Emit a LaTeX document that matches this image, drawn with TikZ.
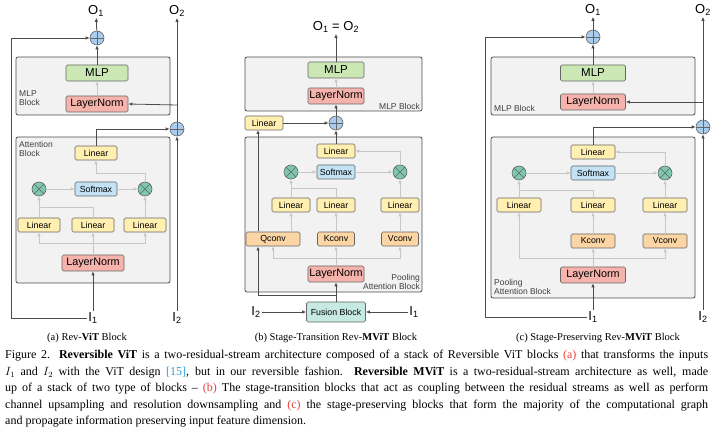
\documentclass[tikz,border=0pt]{standalone}
\usepackage{fontspec}
\setmainfont{Liberation Serif}
\setsansfont{Liberation Sans}
\usetikzlibrary{arrows.meta}
\definecolor{linY}{HTML}{FFEFB0}
\definecolor{lnR}{HTML}{F6B3AC}
\definecolor{mlpG}{HTML}{CBE8B4}
\definecolor{smB}{HTML}{C4E2F5}
\definecolor{cvO}{HTML}{FCD5A4}
\definecolor{fuT}{HTML}{C6E9E1}
\definecolor{xT}{HTML}{7CC7AE}
\definecolor{pB}{HTML}{A8CDEE}
\definecolor{refR}{HTML}{E8413C}
\definecolor{refB}{HTML}{2A9FD6}
\begin{document}
\begin{tikzpicture}[x=1pt,y=-1pt,
 blk/.style={draw=black!70, fill=black!5, rounded corners=2pt, line width=0.8pt},
 bx/.style={draw=black!60, rounded corners=1.5pt, line width=0.6pt, minimum height=14pt, inner sep=1pt, font=\sffamily\fontsize{8.8}{9}\selectfont},
 lin/.style={bx, fill=linY, minimum width=42pt},
 sm/.style={bx, fill=smB, minimum width=42pt},
 cv/.style={bx, fill=cvO, minimum width=37pt},
 ln/.style={bx, fill=lnR, minimum width=62pt, minimum height=16pt, font=\sffamily\fontsize{10.8}{11}\selectfont},
 mlp/.style={ln, fill=mlpG, font=\sffamily\fontsize{11.5}{12}\selectfont},
 oplus/.style={circle, draw=black!60, fill=pB, line width=0.6pt, minimum size=14pt, inner sep=0pt,
   path picture={\draw[black!60,line width=0.6pt] (path picture bounding box.north)--(path picture bounding box.south) (path picture bounding box.west)--(path picture bounding box.east);}},
 otimes/.style={circle, draw=black!60, fill=xT, line width=0.6pt, minimum size=14pt, inner sep=0pt,
   path picture={\draw[black!60,line width=0.6pt] (path picture bounding box.north west)--(path picture bounding box.south east) (path picture bounding box.south west)--(path picture bounding box.north east);}},
 io/.style={font=\sffamily\fontsize{13}{13}\selectfont, inner sep=1pt},
 lbl/.style={font=\sffamily\fontsize{8.5}{9.5}\selectfont, text=black!75, inner sep=1pt},
 dk/.style={draw=black!70, line width=0.8pt, -{Latex[length=4pt,width=3.5pt]}},
 lt/.style={draw=black!22, line width=0.8pt, -{Latex[length=4pt,width=3.5pt]}},
 ltn/.style={draw=black!22, line width=0.8pt},
 pcap/.style={font=\fontsize{10.5}{11}\selectfont, inner sep=0pt},
 txt/.style={font=\fontsize{12}{13}\selectfont, anchor=west, inner sep=0pt}
]
\useasboundingbox (0,0) rectangle (720,438);
% ================= Panel (a)
\draw[blk] (16,57) rectangle (170,115);
\draw[blk] (16,137) rectangle (170,283);
\node[io] (a-o1) at (96,11) {O\textsubscript{1}};
\node[io] (a-o2) at (177,11) {O\textsubscript{2}};
\node[io] (a-i1) at (93,318) {I\textsubscript{1}};
\node[io] (a-i2) at (177,318) {I\textsubscript{2}};
\node[oplus] (a-p1) at (97,38) {};
\node[oplus] (a-p2) at (177,129) {};
\node[mlp] (a-mlp) at (97,73) {MLP};
\node[ln] (a-ln2) at (97,104) {LayerNorm};
\node[lbl, anchor=north west, align=left] (a-mb) at (18,89) {MLP\\Block};
\node[lbl, anchor=north west, align=left] (a-ab) at (18,140) {Attention\\Block};
\node[lin] (a-lt) at (96,153) {Linear};
\node[sm] (a-sm) at (96,189) {Softmax};
\node[otimes] (a-xl) at (39,189) {};
\node[otimes] (a-xr) at (145,189) {};
\node[lin] (a-l1) at (39,225) {Linear};
\node[lin] (a-l2) at (93,225) {Linear};
\node[lin] (a-l3) at (145,225) {Linear};
\node[ln] (a-ln1) at (93,263) {LayerNorm};
\draw[dk] (a-p1) -- (a-o1);
\draw[dk] (a-mlp) -- (a-p1);
\draw[lt] (a-ln2) -- (a-mlp);
\draw[dk] (a-i2) -- (a-p2);
\draw[dk] (a-p2) -- (a-o2);
\coordinate (a-t) at (177,105);
\draw[dk] (a-t) -- (a-ln2.east);
\draw[dk] (a-i1.west) -| (11,38) -- (a-p1.west);
\draw[dk] (a-i1) -- (a-ln1);
\draw[lt] (a-ln1) -- (a-l2);
\draw[lt] (93,243) -| (a-l1.south);
\draw[lt] (93,243) -| (a-l3.south);
\draw[lt] (a-l1) -- (a-xl);
\draw[ltn] (a-l2.north) |- (39,207);
\draw[lt] (a-xl) -- (a-sm);
\draw[lt] (a-sm) -- (a-xr);
\draw[lt] (a-l3) -- (a-xr);
\draw[lt] (a-xr.north) |- (96,173) -- (a-lt.south);
\draw[dk] (a-lt.north) |- (a-p2.west);
\node[pcap] (a-cap) at (87,338) {(a) Rev-\textbf{ViT} Block};
% ================= Panel (b)
\draw[blk] (245,57) rectangle (422,111);
\draw[blk] (245,137) rectangle (422,292);
\node[io] (b-o) at (336,27) {O\textsubscript{1} = O\textsubscript{2}};
\node[mlp, minimum width=56pt] (b-mlp) at (336,70) {MLP};
\node[ln, minimum width=56pt] (b-ln2) at (336,96) {LayerNorm};
\node[lbl, anchor=south east] (b-mb) at (421,111) {MLP Block};
\node[oplus] (b-p) at (336,123) {};
\node[lin, minimum width=38pt] (b-lx) at (264,123) {Linear};
\node[lin, minimum width=38pt] (b-lt) at (336,151) {Linear};
\node[sm, minimum width=38pt] (b-sm) at (336,172) {Softmax};
\node[otimes] (b-xl) at (291,172) {};
\node[otimes] (b-xr) at (400,172) {};
\node[lin, minimum width=38pt] (b-l1) at (291,205) {Linear};
\node[lin, minimum width=38pt] (b-l2) at (336,205) {Linear};
\node[lin, minimum width=38pt] (b-l3) at (400,205) {Linear};
\node[cv, minimum width=54pt] (b-q) at (273,239) {Qconv};
\node[cv] (b-k) at (336,239) {Kconv};
\node[cv] (b-v) at (400,239) {Vconv};
\node[ln, minimum width=56pt] (b-ln1) at (336,274) {LayerNorm};
\node[lbl, anchor=south east, align=right] (b-ab) at (421,291) {Pooling\\Attention Block};
\node[bx, fill=fuT, minimum width=59pt, minimum height=20pt] (b-f) at (336,312) {Fusion Block};
\node[io] (b-i2) at (256,312) {I\textsubscript{2}};
\node[io] (b-i1) at (414,312) {I\textsubscript{1}};
\draw[dk] (b-mlp) -- (b-o);
\draw[lt] (b-ln2) -- (b-mlp);
\draw[dk] (b-p) -- (b-ln2);
\draw[dk] (b-lx) -- (b-p);
\draw[dk] (b-lt) -- (b-p);
\draw[dk] (b-i2) -- (b-f);
\draw[dk] (b-i1) -- (b-f);
\draw[dk] (b-f) -- (b-ln1);
\draw[dk] (336,295) -| (258,246.5);
\draw[dk] (258,231.5) -- (258,130);
\draw[lt] (b-ln1) -- (b-k);
\draw[lt] (336,258) -| (b-q.south);
\draw[lt] (336,258) -| (b-v.south);
\draw[lt] (b-q.north -| b-l1) -- (b-l1);
\draw[lt] (b-k) -- (b-l2);
\draw[lt] (b-v) -- (b-l3);
\draw[lt] (b-l1) -- (b-xl);
\draw[ltn] (b-l2.north) |- (291,188);
\draw[lt] (b-xl) -- (b-sm);
\draw[lt] (b-sm) -- (b-xr);
\draw[lt] (b-l3) -- (b-xr);
\draw[lt] (b-xr.north) |- (b-lt.east);
\node[pcap] (b-cap) at (336,338) {(b) Stage-Transition Rev-\textbf{MViT} Block};
% ================= Panel (c)
\draw[blk] (491,57) rectangle (695,115);
\draw[blk] (491,137) rectangle (695,298);
\node[io] (c-o1) at (593,10) {O\textsubscript{1}};
\node[io] (c-o2) at (703,10) {O\textsubscript{2}};
\node[io] (c-i1) at (593,317) {I\textsubscript{1}};
\node[io] (c-i2) at (703,317) {I\textsubscript{2}};
\node[oplus] (c-p1) at (593,37) {};
\node[oplus] (c-p2) at (703,127) {};
\node[mlp, minimum width=65pt] (c-mlp) at (593,73) {MLP};
\node[ln, minimum width=65pt] (c-ln2) at (593,102) {LayerNorm};
\node[lbl, anchor=south west] (c-mb) at (493,113) {MLP Block};
\node[lbl, anchor=south west, align=left] (c-ab) at (493,296) {Pooling\\Attention Block};
\node[lin, minimum width=44pt] (c-lt) at (593,152) {Linear};
\node[sm, minimum width=44pt] (c-sm) at (593,173) {Softmax};
\node[otimes] (c-xl) at (519,173) {};
\node[otimes] (c-xr) at (665,173) {};
\node[lin, minimum width=44pt] (c-l1) at (519,205) {Linear};
\node[lin, minimum width=44pt] (c-l2) at (593,205) {Linear};
\node[lin, minimum width=44pt] (c-l3) at (665,205) {Linear};
\node[cv, minimum width=44pt] (c-k) at (593,241) {Kconv};
\node[cv, minimum width=44pt] (c-v) at (665,241) {Vconv};
\node[ln, minimum width=65pt] (c-ln1) at (593,275) {LayerNorm};
\draw[dk] (c-p1) -- (c-o1);
\draw[dk] (c-mlp) -- (c-p1);
\draw[lt] (c-ln2) -- (c-mlp);
\draw[dk] (c-i2) -- (c-p2);
\draw[dk] (c-p2) -- (c-o2);
\coordinate (c-t) at (703,102);
\draw[dk] (c-t) -- (c-ln2.east);
\draw[dk] (c-i1.west) -| (485,37) -- (c-p1.west);
\draw[dk] (c-i1) -- (c-ln1);
\draw[lt] (c-ln1) -- (c-k);
\draw[lt] (593,258) -| (c-l1.south);
\draw[lt] (593,258) -| (c-v.south);
\draw[lt] (c-k) -- (c-l2);
\draw[lt] (c-v) -- (c-l3);
\draw[lt] (c-l1) -- (c-xl);
\draw[ltn] (c-l2.north) |- (519,190);
\draw[lt] (c-xl) -- (c-sm);
\draw[lt] (c-sm) -- (c-xr);
\draw[lt] (c-l3) -- (c-xr);
\draw[lt] (c-xr.north) |- (c-lt.east);
\draw[dk] (c-lt.north) |- (c-p2.west);
\node[pcap] (c-cap) at (598,338) {(c) Stage-Preserving Rev-\textbf{MViT} Block};
% ================= Figure caption
\node[txt] (t1) at (5,356) {\makebox[703pt][s]{Figure 2. \textbf{Reversible ViT} is a two-residual-stream architecture composed of a stack of Reversible ViT blocks \textcolor{refR}{(a)} that transforms the inputs}};
\node[txt] (t2) at (5,372.5) {\makebox[703pt][s]{$I_1$ and $I_2$ with the ViT design \textcolor{refB}{[15]}, but in our reversible fashion. \textbf{Reversible MViT} is a two-residual-stream architecture as well, made}};
\node[txt] (t3) at (5,389) {\makebox[703pt][s]{up of a stack of two type of blocks -- \textcolor{refR}{(b)} The stage-transition blocks that act as coupling between the residual streams as well as perform}};
\node[txt] (t4) at (5,405.5) {\makebox[703pt][s]{channel upsampling and resolution downsampling and \textcolor{refR}{(c)} the stage-preserving blocks that form the majority of the computational graph}};
\node[txt] (t5) at (5,422) {and propagate information preserving input feature dimension.};
\end{tikzpicture}
\end{document}
